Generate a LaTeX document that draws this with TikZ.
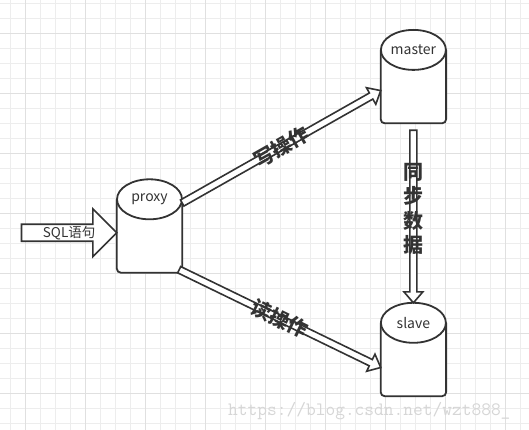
\documentclass[tikz,border=0pt]{standalone}
\usepackage{fontspec}
\newfontfamily\cjk{Noto Sans CJK SC}
\usetikzlibrary{calc, positioning}

\definecolor{ink}{HTML}{333333}
\definecolor{gridminor}{HTML}{EDEDED}
\definecolor{gridmajor}{HTML}{E0E0E0}
\definecolor{wmgray}{HTML}{D6D6D6}

\tikzset{
	db/.style = {rectangle, minimum width=65pt, minimum height=93pt, inner sep=0pt},
	dbline/.style = {draw=ink, line width=1.8pt, fill=white, rounded corners=4pt},
	dbtext/.style = {font=\cjk\fontsize{14}{16}\selectfont, text=ink, inner sep=0pt},
	oplabel/.style = {font=\cjk\bfseries\fontsize{20}{24.5}\selectfont, text=ink, inner sep=0pt},
	blockarrow/.style n args = {3}{draw=ink, line width=1.6pt, fill=white, line join=miter,
		to path={let \p1=(\tikztostart), \p2=(\tikztotarget), \p3=($(\p2)!#3!(\p1)$) in
			($(\p1)!#1!90:(\p2)$) -- ($(\p3)!#1!90:(\p2)$) -- ($(\p3)!#2!90:(\p2)$) -- (\p2)
			-- ($(\p3)!#2!-90:(\p2)$) -- ($(\p3)!#1!-90:(\p2)$) -- ($(\p1)!#1!-90:(\p2)$) -- cycle}},
	thinarrow/.style = {blockarrow={3.5pt}{9.5pt}{11pt}},
	fatarrow/.style = {blockarrow={8.5pt}{24pt}{24pt}},
}

\begin{document}
\begin{tikzpicture}[x=1pt, y=1pt]

	% Background grid - - - - - - - - - - - - - - - - - - - - - - - - - - - - -
	\fill[white] (0,0) rectangle (529,-430);
	\useasboundingbox (0,0) rectangle (529,-430);
	\foreach \gx in {0,...,34} \draw[gridminor, line width=1pt] (10.7+15*\gx,0) -- (10.7+15*\gx,-430);
	\foreach \gy in {0,...,28} \draw[gridminor, line width=1pt] (0,-3.3-15*\gy) -- (529,-3.3-15*\gy);
	\foreach \gx in {0,...,8} \draw[gridmajor, line width=1pt] (25.7+60*\gx,0) -- (25.7+60*\gx,-430);
	\foreach \gy in {0,...,6} \draw[gridmajor, line width=1pt] (0,-33.3-60*\gy) -- (529,-33.3-60*\gy);

	% Database nodes - - - - - - - - - - - - - - - - - - - - - - - - - - - - - -
	\node(proxy)[db] at (149.5,-226) {};
	\node(master)[db, above right= 56pt and 198.5pt of proxy] {};
	\node(slave)[db, below= 179.5pt of master] {};

	%PROXY
	\draw[dbline]([yshift=-20pt]proxy.north west) |- (proxy.south) -| ([yshift=-20pt]proxy.north east);
	\draw[dbline, rounded corners=0pt]([yshift=-20pt]proxy.north) ellipse (32.5pt and 20pt);
	\node(proxytext)[dbtext] at ([yshift=-20pt]proxy.north) {proxy};

	%MASTER
	\draw[dbline]([yshift=-20pt]master.north west) |- (master.south) -| ([yshift=-20pt]master.north east);
	\draw[dbline, rounded corners=0pt]([yshift=-20pt]master.north) ellipse (32.5pt and 20pt);
	\node(mastertext)[dbtext] at ([yshift=-20pt]master.north) {master};

	%SLAVE
	\draw[dbline]([yshift=-20pt]slave.north west) |- (slave.south) -| ([yshift=-20pt]slave.north east);
	\draw[dbline, rounded corners=0pt]([yshift=-20pt]slave.north) ellipse (32.5pt and 20pt);
	\node(slavetext)[dbtext] at ([yshift=-20pt]slave.north) {slave};

	% Arrows - - - - - - - - - - - - - - - - - - - - - - - - - - - - - - - - - -
	\coordinate(sqlin) at ([xshift=-95.3pt, yshift=-6.7pt]proxy.west);
	\draw[fatarrow](sqlin) to ([yshift=-6.7pt]proxy.west);
	\draw[thinarrow]([yshift=23pt]proxy.east) to ([yshift=-14pt]master.west);
	\draw[thinarrow]([shift={(-3pt,3pt)}]proxy.south east) to ([yshift=-18pt]slave.west);
	\draw[thinarrow]([yshift=-7pt]master.south) to (slave.north);

	% Labels - - - - - - - - - - - - - - - - - - - - - - - - - - - - - - - - - -
	\path(sqlin) -- node(sqltext)[dbtext, font=\cjk\fontsize{13.5}{15}\selectfont]{SQL语句} ([yshift=-6.7pt]proxy.west);
	\path([yshift=23pt]proxy.east) -- node(writetext)[oplabel, sloped]{写操作} ([yshift=-14pt]master.west);
	\path([shift={(-3pt,3pt)}]proxy.south east) -- node(readtext)[oplabel, sloped]{读操作} ([yshift=-18pt]slave.west);
	\path([yshift=-7pt]master.south) -- node(synctext)[oplabel, pos=0.455, align=center]{同\\步\\数\\据} (slave.north);

	% Watermark
	\node(wmark)[anchor=base west, inner sep=0pt, text=wmgray, font=\ttfamily\fontsize{18.9}{20}\selectfont] at (228,-415) {https://blog.csdn.net/wzt888\_};

\end{tikzpicture}
\end{document}
